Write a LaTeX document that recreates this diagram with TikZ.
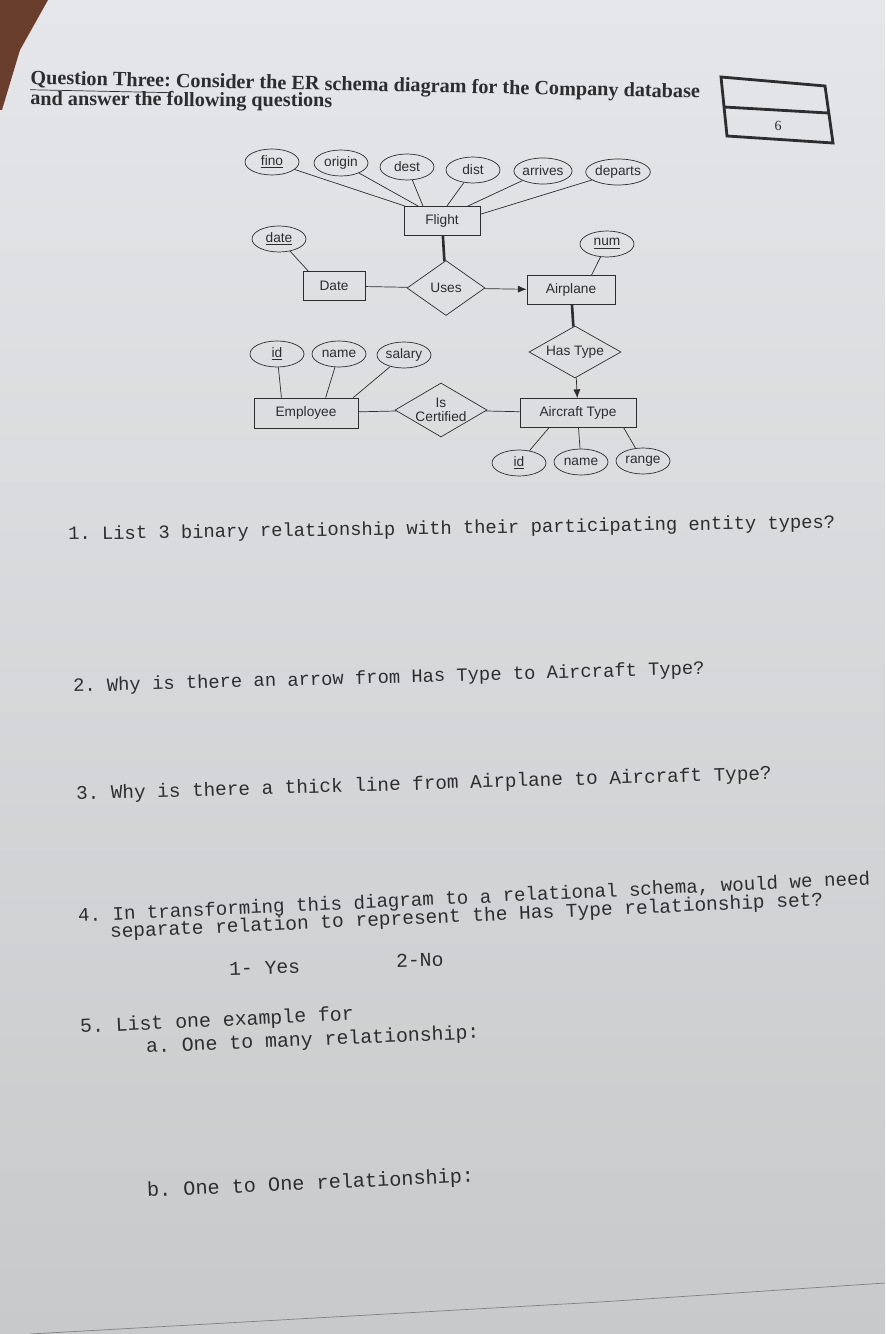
\documentclass[tikz,border=0pt]{standalone}
\usepackage{fontspec}
\setmainfont{Liberation Serif}
\setsansfont{Liberation Sans}
\setmonofont{Liberation Mono}
\usetikzlibrary{shapes.geometric,arrows.meta}

\definecolor{paperTop}{RGB}{228,230,233}
\definecolor{paperBot}{RGB}{200,201,203}
\definecolor{ink}{RGB}{45,45,48}
\definecolor{desk}{RGB}{105,62,45}

\begin{document}
\begin{tikzpicture}[x=0.02cm, y=-0.02cm, draw=ink, text=ink,
  attr/.style={draw, ellipse, inner sep=0pt, minimum width=1.08cm, minimum height=0.52cm,
    font=\sffamily\fontsize{7.8}{9}\selectfont},
  ent/.style={draw, rectangle, minimum height=0.58cm, font=\sffamily\fontsize{7.8}{9}\selectfont},
  rel/.style={draw, diamond, aspect=1.7, inner sep=0pt, align=center,
    font=\sffamily\fontsize{7.8}{8}\selectfont},
  heavy/.style={line width=1.5pt},
  head/.style={anchor=base west, inner sep=0pt, font=\bfseries\fontsize{11.5}{13}\selectfont},
  qtext/.style={anchor=base west, inner sep=0pt, font=\ttfamily\fontsize{#1}{13}\selectfont},
  qtext/.default=10.7]
  % paper
  \shade[top color=paperTop, bottom color=paperBot] (0,0) rectangle (885,1334);
  \useasboundingbox (0,0) rectangle (885,1334);
  \fill[desk] (0,0)--(48,0)--(20,50)--(2,110)--(0,110)--cycle;
  \draw[ink!60, line width=0.4pt] (30,1334)--(600,1302)--(885,1283);

  % heading and mark box
  \node(title1)[head, rotate=-1.2] at(30,84)
    {\underline{Question Three:} Consider the ER schema diagram for the Company database};
  \node(title2)[head, rotate=-0.4] at(30,105) {and answer the following questions};
  \draw[line width=1.6pt] (721,77)--(825,86)--(833,143)--(727,136)--cycle;
  \draw[line width=1.6pt] (724,107)--(828,113);
  \node(mark)[font=\fontsize{8}{9}\selectfont] at(778,126) {6};

  % Flight and its attributes
  \node(Flight)[ent, minimum width=1.52cm] at(442,221) {Flight};
  \foreach \x/\y/\n/\t in {272/162/1/\underline{fino}, 341/163/2/origin, 407/167/3/dest,
                           473/170/4/dist, 543/171/5/arrives, 618/172/6/departs}{%
    \node(A\n)[attr] at(\x,\y) {\t};
  }
  \foreach \n/\a in {1/158,2/148,3/142,4/72,5/30,6/10}{%
    \draw(A\n)--(Flight.\a);
  }

  % Date, Uses, Airplane
  \node(Date)[ent, minimum width=1.24cm] at(334,286) {Date};
  \node(date)[attr] at(279,239) {\underline{date}};
  \node(Uses)[rel, minimum width=1.56cm, minimum height=1.1cm] at(446,288) {Uses};
  \node(Airplane)[ent, minimum width=1.76cm] at(571,290) {Airplane};
  \node(num)[attr] at(607,244) {\underline{num}};
  \draw(date)--(Date.150);
  \draw(num)--(Airplane.36);
  \draw(Date)--(Uses);
  \draw[-{Latex[length=5pt,width=4pt]}](Uses)--(Airplane);
  \draw[heavy](Flight)--(Uses);

  % Has Type and Aircraft Type
  \node(HasType)[rel, minimum width=1.84cm, minimum height=1.04cm] at(575,352) {Has Type};
  \node(AircraftType)[ent, minimum width=2.32cm] at(578,413) {Aircraft Type};
  \draw[heavy](Airplane)--(HasType);
  \draw[-{Latex[length=5pt,width=4pt]}](HasType)--(AircraftType);
  \foreach \x/\y/\n/\t in {519/463/1/\underline{id}, 581/462/2/name, 643/461/3/range}{%
    \node(T\n)[attr] at(\x,\y) {\t};
  }
  \foreach \n/\a in {1/207,2/272,3/342}{%
    \draw(T\n)--(AircraftType.\a);
  }

  % Employee and Is Certified
  \node(Employee)[ent, minimum width=2.08cm, minimum height=0.6cm] at(306,413) {Employee};
  \foreach \x/\y/\n/\t in {277/354/1/\underline{id}, 339/354/2/name, 404/355/3/salary}{%
    \node(E\n)[attr] at(\x,\y) {\t};
  }
  \foreach \n/\a in {1/148,2/38,3/18}{%
    \draw(E\n)--(Employee.\a);
  }
  \node(IsCertified)[rel, minimum width=1.84cm, minimum height=1.08cm] at(441,410) {Is\\Certified};
  \draw(Employee)--(IsCertified);
  \draw(IsCertified)--(AircraftType);

  % questions
  \node(q1)[qtext, rotate=0.9] at(68,540)
    {1. List 3 binary relationship with their participating entity types?};
  \node(q2)[qtext, rotate=1.6] at(73,692)
    {2. Why is there an arrow from Has Type to Aircraft Type?};
  \node(q3)[qtext=11, rotate=1.7] at(76,800)
    {3. Why is there a thick line from Airplane to Aircraft Type?};
  \node(q4a)[qtext=10.9, rotate=2.7] at(78,922)
    {4. In transforming this diagram to a relational schema, would we need};
  \node(q4b)[qtext=11.1, rotate=2.6] at(110,938)
    {separate relation to represent the Has Type relationship set?};
  \node(yes)[qtext=11.2, rotate=1.5] at(229,975) {1- Yes};
  \node(no)[qtext=11.2, rotate=1.5] at(396,967) {2-No};
  \node(q5)[qtext=11.3, rotate=2.7] at(80,1033) {5. List one example for};
  \node(q5a)[qtext=11.3, rotate=2.5] at(146,1053) {a. One to many relationship:};
  \node(q5b)[qtext=11.5, rotate=2.6] at(147,1197) {b. One to One relationship:};
\end{tikzpicture}
\end{document}
